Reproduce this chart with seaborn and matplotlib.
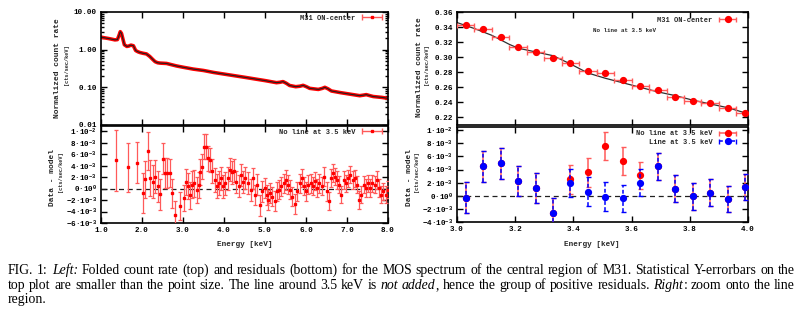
import numpy as np
import pandas as pd
import matplotlib
matplotlib.use("Agg")
import matplotlib.pyplot as plt
import seaborn as sns
from matplotlib.container import ErrorbarContainer
from matplotlib.legend_handler import HandlerErrorbar
from matplotlib.ticker import FixedLocator, NullFormatter, LogLocator

# ---------------- data ----------------
# folded MOS spectrum of the M31 central region (full band)
spec_energy = [1.00, 1.10, 1.18, 1.26, 1.34, 1.40, 1.44, 1.47, 1.50, 1.53, 1.57, 1.63,
               1.68, 1.73, 1.79, 1.845, 1.90, 1.95, 2.03, 2.11, 2.19, 2.27, 2.32, 2.38,
               2.44, 2.60, 2.84, 3.00, 3.25, 3.50, 3.75, 4.00, 4.50, 5.00, 5.28, 5.36,
               5.44, 5.52, 5.60, 5.75, 5.85, 5.93, 6.01, 6.09, 6.30, 6.40, 6.46, 6.54,
               6.62, 6.85, 7.07, 7.31, 7.40, 7.47, 7.56, 7.64, 7.85, 8.00]
spec_rate = [2.15, 2.05, 1.98, 1.90, 1.82, 1.85, 2.40, 3.00, 2.70, 2.00, 1.35, 1.22,
             1.25, 1.32, 1.27, 0.95, 0.88, 0.84, 0.80, 0.77, 0.66, 0.54, 0.48, 0.45,
             0.44, 0.43, 0.37, 0.342, 0.305, 0.280, 0.248, 0.225, 0.185, 0.151, 0.133, 0.136,
             0.142, 0.128, 0.112, 0.104, 0.107, 0.113, 0.104, 0.094, 0.088, 0.094, 0.100, 0.091,
             0.080, 0.072, 0.066, 0.060, 0.062, 0.064, 0.060, 0.057, 0.054, 0.051]

# residuals (data - model) without a line at 3.5 keV, full band [1e-3 cts/sec/keV]
res_energy = [1.36, 1.66, 1.89, 2.02, 2.08, 2.14, 2.20, 2.26, 2.32, 2.38, 2.44, 2.50,
              2.56, 2.62, 2.68, 2.74, 2.80, 2.92, 3.03, 3.08, 3.13, 3.18, 3.23, 3.28,
              3.33, 3.38, 3.42, 3.46, 3.51, 3.56, 3.61, 3.66, 3.71, 3.77, 3.82, 3.87,
              3.92, 3.98, 4.03, 4.09, 4.14, 4.20, 4.25, 4.30, 4.36, 4.41, 4.47, 4.52,
              4.58, 4.65, 4.70, 4.75, 4.81, 4.87, 4.92, 4.99, 5.04, 5.08, 5.13, 5.18,
              5.24, 5.30, 5.35, 5.40, 5.46, 5.51, 5.56, 5.62, 5.67, 5.73, 5.78, 5.85,
              5.90, 5.95, 6.00, 6.05, 6.11, 6.16, 6.21, 6.27, 6.32, 6.38, 6.43, 6.50,
              6.56, 6.61, 6.66, 6.70, 6.76, 6.81, 6.86, 6.92, 6.98, 7.03, 7.08, 7.14,
              7.19, 7.24, 7.30, 7.35, 7.41, 7.46, 7.51, 7.57, 7.62, 7.68, 7.73, 7.78,
              7.84, 7.89, 7.95, 8.00]
res_value = [4.9, 3.7, 4.5, -0.8, 1.6, 6.5, 1.8, 1.2, 2.1, 0.4, -1.0, 5.2,
             2.7, 2.7, 2.7, -0.8, -4.6, -3.0, -1.6, 1.1, 0.4, -1.2, 0.7, 0.9,
             -0.3, 0.6, 2.9, 3.8, 7.3, 7.3, 5.3, 5.0, 3.0, 1.5, 0.4, 0.9,
             1.8, 0.4, 0.9, 1.8, 3.3, 2.8, 3.1, 1.2, 0.4, 2.4, 1.2, 1.8,
             0.9, -0.2, 1.8, -1.1, 0.7, -2.9, -0.5, 0.1, -1.1, -2.0, -0.8, -1.4,
             -2.2, -0.5, -0.2, 0.4, 0.9, 1.5, 0.7, -0.2, -1.4, -2.7, -0.5, 0.9,
             1.8, 0.4, -0.5, 0.7, 0.9, 0.4, 1.3, 0.1, 0.9, 0.4, 2.1, -0.5,
             -2.2, 1.8, 2.7, 2.1, 1.5, 0.7, -1.1, 1.5, 0.9, 1.8, 2.4, 1.5,
             1.8, 0.7, -2.0, -1.1, 0.7, 0.1, 0.9, 0.1, 0.9, 0.7, 1.5, 0.1,
             -1.1, -0.5, -1.1, -0.2]
res_error = [5.3, 4.3, 3.6, 3.5, 3.2, 3.3, 3.1, 2.9, 2.8, 2.7, 2.7, 2.7,
             2.6, 2.6, 2.5, 2.5, 2.5, 2.4, 2.3, 2.3, 2.3, 2.3, 2.3, 2.3,
             2.3, 2.2, 2.2, 2.2, 2.2, 2.2, 2.2, 2.1, 2.1, 2.1, 2.1, 2.1,
             2.0, 2.0, 2.0, 2.0, 2.0, 2.0, 2.0, 1.9, 1.9, 1.9, 1.9, 1.9,
             1.9, 1.9, 1.8, 1.8, 1.8, 1.8, 1.8, 1.8, 1.8, 1.8, 1.7, 1.7,
             1.7, 1.7, 1.7, 1.7, 1.7, 1.7, 1.7, 1.7, 1.7, 1.7, 1.6, 1.6,
             1.6, 1.6, 1.6, 1.6, 1.6, 1.6, 1.6, 1.6, 1.6, 1.6, 1.6, 1.6,
             1.6, 1.6, 1.6, 1.5, 1.5, 1.5, 1.5, 1.5, 1.5, 1.5, 1.5, 1.5,
             1.5, 1.5, 1.5, 1.5, 1.5, 1.5, 1.5, 1.5, 1.5, 1.5, 1.5, 1.5,
             1.5, 1.5, 1.5, 1.5]

# zoom onto 3-4 keV: binned count rate and model
zoom_energy = [3.03, 3.09, 3.15, 3.21, 3.27, 3.33, 3.39, 3.45, 3.51, 3.57, 3.63,
               3.69, 3.75, 3.81, 3.87, 3.93, 3.99]
zoom_rate = [0.3427, 0.3373, 0.3267, 0.3133, 0.3067, 0.2987, 0.2924, 0.2818, 0.2787,
             0.2698, 0.2613, 0.2569, 0.2476, 0.2413, 0.2387, 0.2329, 0.2262]
zoom_bin_halfwidth = 0.03
model_energy = [3.00, 3.06, 3.12, 3.18, 3.21, 3.27, 3.33, 3.39, 3.45, 3.51, 3.57,
                3.63, 3.69, 3.75, 3.81, 3.87, 3.93, 4.00]
model_rate = [0.346, 0.338, 0.329, 0.317, 0.312, 0.307, 0.302, 0.291, 0.279, 0.272,
              0.266, 0.260, 0.254, 0.249, 0.243, 0.238, 0.233, 0.225]

# zoomed residuals [1e-3 cts/sec/keV]: without and with the 3.5 keV line
zoom_res_noline = [-0.3, 4.5, 4.95, 2.3, 1.15, -2.6, 2.5, 3.6, 7.6, 5.35, 3.1,
                   4.5, 1.06, -0.1, 0.5, -0.55, 1.3]
zoom_res_line = [-0.3, 4.5, 4.95, 2.3, 1.15, -2.6, 1.95, 0.65, -0.15, -0.4, 2.0,
                 4.5, 1.06, -0.1, 0.5, -0.55, 1.3]
zoom_res_error = [2.4, 2.4, 2.35, 2.3, 2.3, 2.3, 2.2, 2.2, 2.2, 2.1, 2.1,
                  2.1, 2.05, 2.0, 2.0, 2.0, 2.0]

res_tick_values = [-6, -4, -2, 0, 2, 4, 6, 8, 10]
res_tick_labels = [r"$-6·10^{-3}$", r"$-4·10^{-3}$", r"$-2·10^{-3}$", r"$0·10^{0}$",
                   r"$2·10^{-3}$", r"$4·10^{-3}$", r"$6·10^{-3}$", r"$8·10^{-3}$",
                   r"$1·10^{-2}$"]

# ---------------- style ----------------
sns.set_theme(style="ticks")
plt.rcParams.update({
    "font.family": ["Liberation Mono", "DejaVu Sans Mono"],
    "font.weight": "bold",
    "mathtext.fontset": "custom",
    "mathtext.rm": "Liberation Mono:bold",
    "mathtext.it": "Liberation Mono:bold",
    "mathtext.bf": "Liberation Mono:bold",
    "mathtext.fallback": "stixsans",
    "axes.linewidth": 1.2,
    "axes.edgecolor": "black",
    "xtick.direction": "in",
    "ytick.direction": "in",
    "xtick.top": True,
    "ytick.right": True,
    "xtick.major.size": 4,
    "ytick.major.size": 4,
    "xtick.minor.size": 2,
    "ytick.minor.size": 2,
    "xtick.major.width": 1.0,
    "ytick.major.width": 1.0,
    "xtick.labelsize": 5.5,
    "ytick.labelsize": 5.5,
    "xtick.color": "black",
    "ytick.color": "black",
    "xtick.major.pad": 3,
    "ytick.major.pad": 3,
})

RED = "#ff0000"
RED_BAR = "#ff5a5a"
BLUE = "#0000ff"

W, H = 800, 321
fig = plt.figure(figsize=(W / 100, H / 100), dpi=100)


def box(x0, y0, x1, y1):
    return [x0 / W, 1 - y1 / H, (x1 - x0) / W, (y1 - y0) / H]


ax_spec = fig.add_axes(box(101, 12, 388, 125))
ax_res = fig.add_axes(box(101, 126, 388, 223))
ax_zoom = fig.add_axes(box(457, 12, 748, 125))
ax_zres = fig.add_axes(box(457, 127, 748, 222))

res_df = pd.DataFrame({"energy": res_energy,
                       "value": np.array(res_value) * 1e-3,
                       "error": np.array(res_error) * 1e-3})
zoom_df = pd.DataFrame({"energy": zoom_energy, "rate": zoom_rate,
                        "noline": np.array(zoom_res_noline) * 1e-3,
                        "line": np.array(zoom_res_line) * 1e-3,
                        "error": np.array(zoom_res_error) * 1e-3})

# legend samples in the "text, then bar with caps" layout
wide_bar = {ErrorbarContainer: HandlerErrorbar(xerr_size=1.45, yerr_size=0.5)}
legend_kw = dict(loc="upper right", markerfirst=False, frameon=False, fontsize=5,
                 handlelength=3.2, borderaxespad=0.3, handler_map=wide_bar)

# ---- full-band folded spectrum ----
sns.lineplot(x=spec_energy, y=spec_rate, ax=ax_spec, color=RED, lw=2.6,
             estimator=None, sort=False, legend=False)
sns.lineplot(x=spec_energy, y=spec_rate, ax=ax_spec, color="#202020", lw=0.8,
             estimator=None, sort=False, legend=False)
ax_spec.set_yscale("log")
ax_spec.set_xlim(1.0, 8.0)
ax_spec.set_ylim(0.01, 10)
ax_spec.yaxis.set_major_locator(FixedLocator([0.01, 0.1, 1, 10]))
ax_spec.set_yticklabels(["0.01", "0.10", "1.00", "10.00"])
ax_spec.yaxis.set_minor_locator(LogLocator(base=10, subs=np.arange(2, 10)))
ax_spec.yaxis.set_minor_formatter(NullFormatter())
ax_spec.xaxis.set_major_locator(FixedLocator(np.arange(1, 9)))
ax_spec.tick_params(labelbottom=False)
spec_handle = ax_spec.errorbar([np.nan], [np.nan], xerr=[0.1], fmt="s", ms=1.5,
                               color=RED, ecolor=RED_BAR, elinewidth=1.0, capsize=2,
                               label="M31 ON-center")
ax_spec.legend(handles=[spec_handle], bbox_to_anchor=(1.0, 1.02), **legend_kw)

# ---- full-band residuals ----
ax_res.axhline(0, color="#202020", ls=(0, (4, 3)), lw=0.9, zorder=1)
res_handle = ax_res.errorbar(res_df["energy"], res_df["value"], yerr=res_df["error"],
                             fmt="s", ms=1.6, color=RED, ecolor=RED_BAR,
                             elinewidth=0.9, capsize=1.3, capthick=0.9, zorder=3)
res_key = ax_res.errorbar([np.nan], [np.nan], xerr=[0.1], fmt="s", ms=1.5,
                          color=RED, ecolor=RED_BAR, elinewidth=1.0, capsize=2,
                          label="No line at 3.5 keV")
ax_res.set_xlim(1.0, 8.0)
ax_res.set_ylim(-6e-3, 1.09e-2)
ax_res.xaxis.set_major_locator(FixedLocator(np.arange(1, 9)))
ax_res.set_xticklabels([f"{v:.1f}" for v in np.arange(1, 9)])
ax_res.yaxis.set_major_locator(FixedLocator(np.array(res_tick_values) * 1e-3))
ax_res.set_yticklabels(res_tick_labels)
ax_res.legend(handles=[res_key], bbox_to_anchor=(1.0, 1.02), **legend_kw)

# ---- 3-4 keV zoom: count rate ----
sns.lineplot(x=model_energy, y=model_rate, ax=ax_zoom, color="#303030", lw=0.9,
             estimator=None, sort=False, legend=False)
zoom_handle = ax_zoom.errorbar(zoom_df["energy"], zoom_df["rate"],
                               xerr=zoom_bin_halfwidth, fmt="o", ms=4.2,
                               color=RED, ecolor=RED_BAR, elinewidth=1.0,
                               capsize=1.8, label="M31 ON-center", zorder=3)
ax_zoom.set_xlim(3.0, 4.0)
ax_zoom.set_ylim(0.21, 0.36)
ax_zoom.xaxis.set_major_locator(FixedLocator(np.arange(3.0, 4.01, 0.2)))
ax_zoom.yaxis.set_major_locator(FixedLocator(np.arange(0.22, 0.361, 0.02)))
ax_zoom.set_yticklabels([f"{v:.2f}" for v in np.arange(0.22, 0.361, 0.02)])
ax_zoom.tick_params(labelbottom=False)
ax_zoom.legend(handles=[zoom_handle], bbox_to_anchor=(0.98, 1.0),
               **{**legend_kw, "handlelength": 2.8,
                  "handler_map": {ErrorbarContainer: HandlerErrorbar(xerr_size=1.2)}})
ax_zoom.text(0.685, 0.838, "No line at 3.5 keV", transform=ax_zoom.transAxes,
             fontsize=4.2, ha="right", va="center")

# ---- 3-4 keV zoom: residuals ----
ax_zres.axhline(0, color="#202020", ls=(0, (4, 3)), lw=0.9, zorder=1)
noline_handle = ax_zres.errorbar(zoom_df["energy"], zoom_df["noline"],
                                 yerr=zoom_df["error"], fmt="o", ms=4.2, color=RED,
                                 ecolor=RED_BAR, elinewidth=1.1, capsize=1.8, zorder=3)
line_handle = ax_zres.errorbar(zoom_df["energy"], zoom_df["line"],
                               yerr=zoom_df["error"], fmt="o", ms=4.2, color=BLUE,
                               ecolor=BLUE, elinewidth=1.1, capsize=1.8, zorder=4)
for coll in line_handle[2]:
    coll.set_linestyle((0, (2.5, 1.5)))
noline_key = ax_zres.errorbar([np.nan], [np.nan], xerr=[0.1], fmt="o", ms=4.2,
                              color=RED, ecolor=RED_BAR, elinewidth=1.1, capsize=1.8,
                              label="No line at 3.5 keV")
line_key = ax_zres.errorbar([np.nan], [np.nan], xerr=[0.1], fmt="o", ms=4.2,
                            color=BLUE, ecolor=BLUE, elinewidth=1.1, capsize=1.8,
                            label="Line at 3.5 keV")
for coll in line_key[2]:
    coll.set_linestyle((0, (2.5, 1.5)))
ax_zres.set_xlim(3.0, 4.0)
ax_zres.set_ylim(-4e-3, 1.05e-2)
ax_zres.xaxis.set_major_locator(FixedLocator(np.arange(3.0, 4.01, 0.2)))
ax_zres.set_xticklabels([f"{v:.1f}" for v in np.arange(3.0, 4.01, 0.2)])
ax_zres.yaxis.set_major_locator(FixedLocator(np.array(res_tick_values[1:]) * 1e-3))
ax_zres.set_yticklabels(res_tick_labels[1:])
ax_zres.legend(handles=[noline_key, line_key], bbox_to_anchor=(0.98, 1.02),
               labelspacing=0.25,
               **{**legend_kw, "handlelength": 2.8,
                  "handler_map": {ErrorbarContainer: HandlerErrorbar(xerr_size=1.2)}})

# ---- axis titles ----
def vlabel(xpx, ypx, text, size):
    fig.text(xpx / W, 1 - ypx / H, text, rotation=90, ha="center", va="center",
             fontsize=size, fontweight="bold")


vlabel(57.5, 68, "Normalized count rate", 5.7)
vlabel(67, 65, "[cts/sec/keV]", 3.8)
vlabel(53, 178, "Data - model", 5.7)
vlabel(61, 172, "[cts/sec/keV]", 3.8)
vlabel(419.5, 67, "Normalized count rate", 5.7)
vlabel(427, 65, "[cts/sec/keV]", 3.8)
vlabel(410, 178, "Data - model", 5.7)
vlabel(417, 172, "[cts/sec/keV]", 3.8)
fig.text(245 / W, 1 - 244 / H, "Energy [keV]", ha="center", va="center",
         fontsize=5.5, fontweight="bold")
fig.text(592 / W, 1 - 244 / H, "Energy [keV]", ha="center", va="center",
         fontsize=5.5, fontweight="bold")

# ---------------- caption ----------------
caption_lines = [
    [("FIG. 1: ", False), ("Left:", True),
     (" Folded count rate (top) and residuals (bottom) for the MOS spectrum of the "
      "central region of M31. Statistical Y-errorbars on the", False)],
    [("top plot are smaller than the point size. The line around 3.5 keV is ", False),
     ("not added", True), (", hence the group of positive residuals. ", False),
     ("Right", True), (": zoom onto the line", False)],
    [("region.", False)],
]
caption_justify = [True, True, False]
caption_baseline = [274, 289, 303]
CAP_X0, CAP_X1 = 8, 795

renderer = fig.canvas.get_renderer()


def split_words(segs):
    words = [[]]
    for s, it in segs:
        parts = s.split(" ")
        for i, p in enumerate(parts):
            if i > 0:
                words.append([])
            if p:
                words[-1].append((p, it))
    return [w for w in words if w]


def cap_text(s, italic, size):
    return fig.text(0, 0, s, family="Liberation Serif", fontweight="normal",
                    style="italic" if italic else "normal", fontsize=size,
                    va="baseline", ha="left", color="black")


def measure(s, italic, size):
    t = cap_text(s, italic, size)
    w = t.get_window_extent(renderer).width
    t.remove()
    return w


# font size chosen so the first line fills the text block at natural spacing
probe_size = 10.0
first = split_words(caption_lines[0])
natural = sum(measure(p, it, probe_size) for w in first for p, it in w)
natural += (len(first) - 1) * (measure("a a", False, probe_size)
                               - measure("aa", False, probe_size))
cap_size = probe_size * (CAP_X1 - CAP_X0) / natural * 0.99
space_w = measure("a a", False, cap_size) - measure("aa", False, cap_size)

for segs, just, base in zip(caption_lines, caption_justify, caption_baseline):
    words = split_words(segs)
    placed = []
    for w in words:
        pieces = [cap_text(p, it, cap_size) for p, it in w]
        widths = [t.get_window_extent(renderer).width for t in pieces]
        placed.append((pieces, widths))
    total = sum(sum(ws) for _, ws in placed)
    if just and len(placed) > 1:
        gap = (CAP_X1 - CAP_X0 - total) / (len(placed) - 1)
    else:
        gap = space_w
    x = CAP_X0
    for pieces, widths in placed:
        for t, wpx in zip(pieces, widths):
            t.set_position((x / W, 1 - base / H))
            x += wpx
        x += gap

fig.savefig("out.png", dpi=100)
